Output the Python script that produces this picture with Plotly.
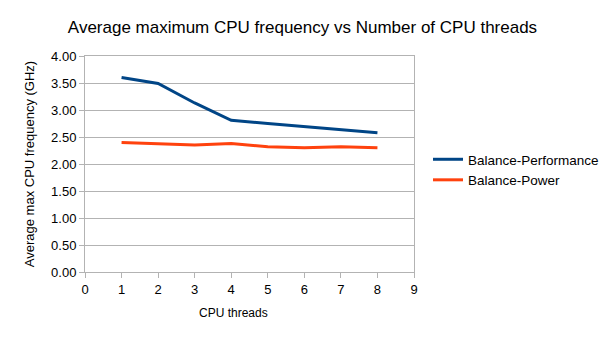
import plotly.graph_objects as go

threads = [1, 2, 3, 4, 5, 6, 7, 8]
balance_performance = [3.60, 3.49, 3.13, 2.81, 2.75, 2.69, 2.63, 2.58]
balance_power = [2.40, 2.38, 2.35, 2.38, 2.32, 2.30, 2.32, 2.30]
y_ticks = [0, 0.5, 1.0, 1.5, 2.0, 2.5, 3.0, 3.5, 4.0]

font = "Liberation Sans, Arial, sans-serif"
grid = "#b3b3b3"
W, H = 605, 340
L, R, T, B = 85, 191, 56, 68

fig = go.Figure()
fig.add_trace(go.Scatter(x=threads, y=balance_performance, mode="lines",
                         name="Balance-Performance",
                         line=dict(color="#004586", width=3)))
fig.add_trace(go.Scatter(x=threads, y=balance_power, mode="lines",
                         name="Balance-Power",
                         line=dict(color="#ff420e", width=3)))

# x-axis caption, placed slightly left of the plot centre
fig.add_annotation(text="CPU threads", xref="paper", yref="paper",
                   x=(233 - L) / (W - L - R), y=-(313 - (H - B)) / (H - T - B),
                   xanchor="center", yanchor="middle", showarrow=False,
                   font=dict(size=12, family=font))

fig.update_layout(
    width=W, height=H,
    margin=dict(l=L, r=R, t=T, b=B, autoexpand=False),
    paper_bgcolor="white", plot_bgcolor="white",
    font=dict(family=font, size=12, color="#000000"),
    title=dict(text="Average maximum CPU frequency vs Number of CPU threads",
               x=0.5, xref="container", xanchor="center",
               y=1 - 27 / H, yref="container", yanchor="middle",
               font=dict(size=17, family=font)),
    xaxis=dict(range=[0, 9], tickmode="linear", tick0=0, dtick=1,
               showgrid=False, zeroline=False,
               showline=True, linecolor=grid, linewidth=1, mirror=True,
               ticks="outside", ticklen=5, tickcolor=grid,
               tickfont=dict(size=13)),
    yaxis=dict(range=[0, 4], tickvals=y_ticks,
               ticktext=[f"{v:.2f}" for v in y_ticks],
               showgrid=True, gridcolor=grid, gridwidth=1, zeroline=False,
               showline=True, linecolor=grid, linewidth=1, mirror=True,
               ticks="outside", ticklen=5, tickcolor=grid,
               tickfont=dict(size=13),
               title=dict(text="Average max CPU frequency (GHz)",
                          font=dict(size=13), standoff=13)),
    legend=dict(x=428 / W, y=1 - 170 / H, xref="container", yref="container",
                xanchor="left", yanchor="middle",
                font=dict(size=13.5), tracegroupgap=1,
                bgcolor="rgba(0,0,0,0)"),
)

fig.write_html("out.html")
